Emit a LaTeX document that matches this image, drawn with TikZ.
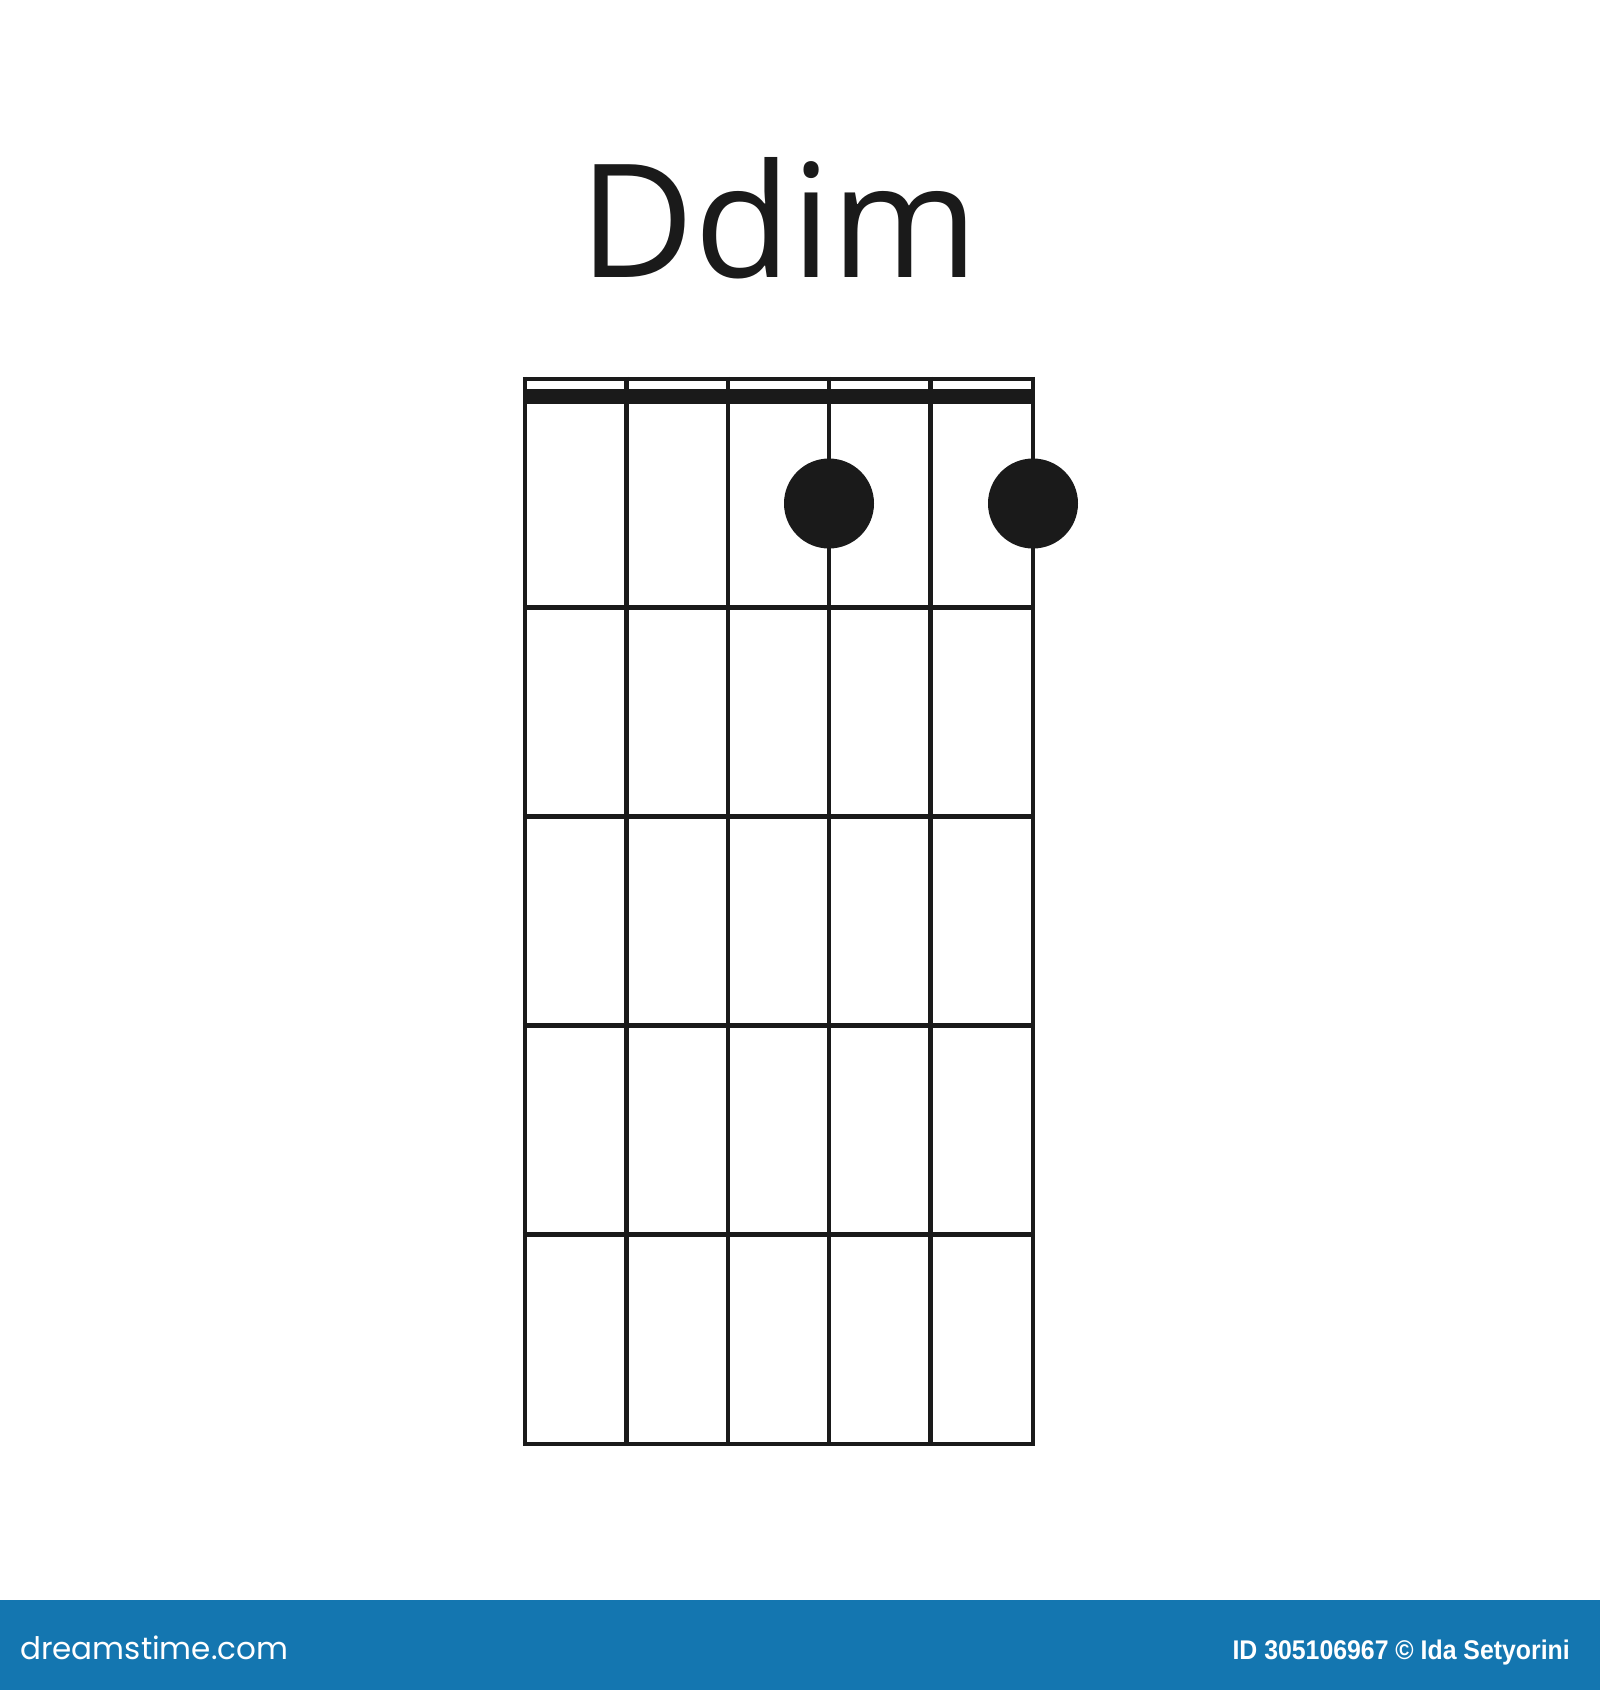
\documentclass[tikz,border=0pt]{standalone}
\usepackage{fontspec}
\setmainfont{Open Sans}
\newfontfamily\logofont{Poppins}
\newfontfamily\idfont{Liberation Sans}
\definecolor{ink}{RGB}{26,26,26}
\definecolor{banner}{RGB}{20,118,176}
\begin{document}
\begin{tikzpicture}[x=1pt,y=-1pt,
  gridline/.style={draw=ink,line width=4.5pt},
  fingerdot/.style={circle,fill=ink,minimum size=90pt,inner sep=0pt}]
\fill[white] (0,0) rectangle (1600,1690);
\useasboundingbox (0,0) rectangle (1600,1690);
% title
\node[anchor=base,text=ink,font=\fontsize{158}{158}\selectfont,inner sep=0pt] (title) at (779,277) {Ddim};
% nut
\draw[gridline] (522.75,379) -- (1035.25,379);
\fill[ink] (522.75,388.5) rectangle (1035.25,404);
% strings
\foreach \x in {525,626.5,728,829,930.5,1033}
  \draw[gridline] (\x,376.75) -- (\x,1446.25);
% frets
\foreach \y in {607.5,816.5,1025.5,1234.5,1444}
  \draw[gridline] (522.75,\y) -- (1035.25,\y);
% finger dots
\node[fingerdot] (d1) at (829,503.5) {};
\node[fingerdot] (d2) at (1033,503.5) {};
% banner
\fill[banner] (0,1600) rectangle (1600,1690);
\node[anchor=base west,text=white,inner sep=0pt,font=\logofont\fontsize{31}{31}\selectfont] (logo) at (20,1659) {dreamstime.com};
\node[anchor=base east,text=white,inner sep=0pt,font=\idfont\bfseries\fontsize{27}{27}\selectfont] (credit) at (1570,1659) {\scalebox{0.92}[1]{ID 305106967 © Ida Setyorini}};
\end{tikzpicture}
\end{document}
